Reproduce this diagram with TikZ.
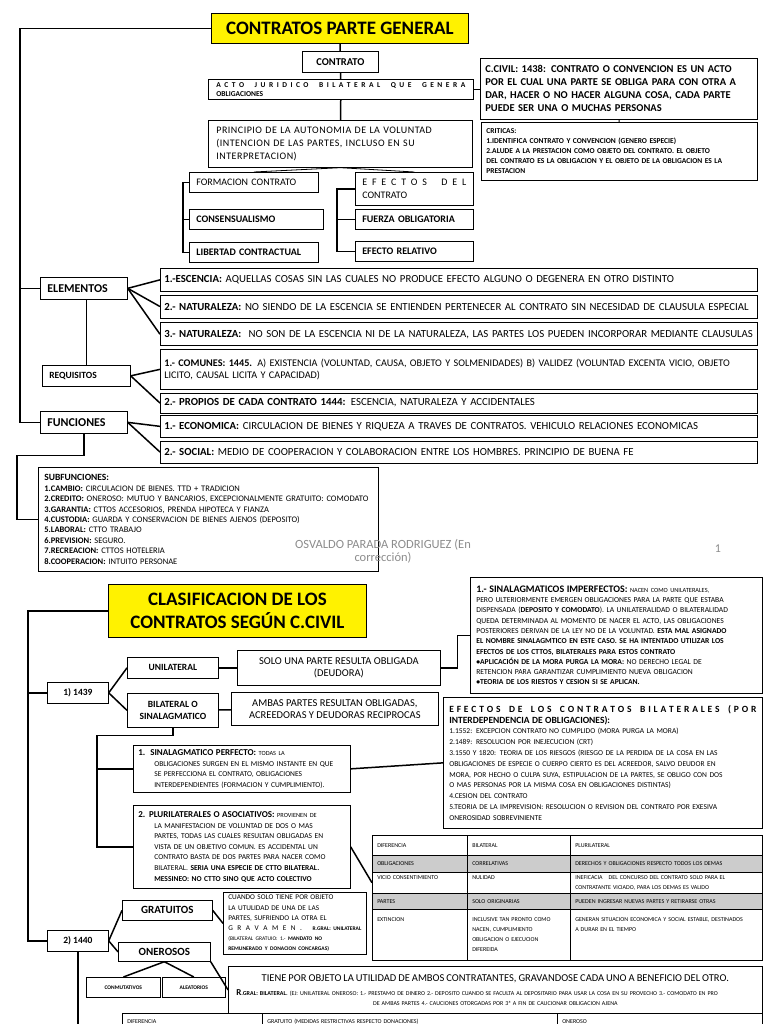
\documentclass[tikz,border=0pt]{standalone}
\usepackage{fontspec}
\setmainfont{Carlito}
\usepackage{tikz}
\usetikzlibrary{positioning}
\setlength{\parindent}{0pt}
\newcommand{\fsz}[2]{\fontsize{#1}{#2}\selectfont}
\newcommand{\jl}[2][\hsize]{\makebox[#1][s]{#2}}
\ExplSyntaxOn
\seq_new:N \l_spread_seq
\NewDocumentCommand{\spread}{m}
  {
    \seq_set_split:Nnn \l_spread_seq { ~ } {#1}
    \seq_map_indexed_inline:Nn \l_spread_seq
      {
        \int_compare:nT { ##1 > 1 } { \hskip 0pt plus 2fil \scan_stop: }
        \tl_map_inline:nn {##2} { ####1 \hskip 0pt plus 1fil \scan_stop: }
      }
    \unskip
  }
\ExplSyntaxOff

\begin{document}
\begin{tikzpicture}[x=1pt, y=-1pt,
    % Define styles for the boxes and the links
        box/.style={draw, line width=0.7pt, fill=white, anchor=north west, inner xsep=4pt, inner ysep=2pt, align=center},
        sz/.style 2 args={minimum width=#1, minimum height=#2},
        ttl/.style={box, fill=yellow, line width=0.9pt, font=\bfseries\fsz{19}{23}},
        item/.style={box, minimum width=597, minimum height=23, text width=589pt, align=left, font=\fsz{10.8}{12}},
        cell/.style={box, line width=0.5pt, align=left, inner xsep=5pt, font=\fsz{6}{10}},
        grey/.style={fill=black!20},
        link/.style={line width=1.5pt},
        thinlink/.style={line width=0.8pt}
    ]
    \useasboundingbox (0,0) rectangle (768,1024);
    \fill[white] (0,0) rectangle (768,1024);

        % Define the nodes of the first part
        \node[ttl, sz={257}{30}] (general) at (211,13) {CONTRATOS PARTE GENERAL};

        \node[box, sz={76}{21}, font=\bfseries\fsz{10.5}{12}] (contrato) at (302,51) {CONTRATO};

        \node[box, sz={265}{20}, inner ysep=1pt, inner xsep=8pt, text width=249pt, align=left, font=\bfseries\fsz{7.5}{9}] (acto) at (208,79) {\jl{\spread{ACTO JURIDICO BILATERAL QUE GENERA}}\\OBLIGACIONES};

        \node[box, sz={277}{61}, inner xsep=5pt, text width=267pt, align=left, font=\bfseries\fsz{10.5}{13}] (ccivil) at (480,58) {\jl{C.CIVIL: 1438: CONTRATO O CONVENCION ES UN ACTO}\\ \jl{POR EL CUAL UNA PARTE SE OBLIGA PARA CON OTRA A}\\ \jl{DAR, HACER O NO HACER ALGUNA COSA, CADA PARTE}\\ PUEDE SER UNA O MUCHAS PERSONAS};

        \node[box, sz={276}{58}, inner xsep=5pt, text width=266pt, align=left, font=\bfseries\fsz{7.5}{10}] (criticas) at (481,122) {CRITICAS:\\ 1.IDENTIFICA CONTRATO Y CONVENCION (GENERO ESPECIE)\\ \jl{2.ALUDE A LA PRESTACION COMO OBJETO DEL CONTRATO. EL OBJETO}\\ \jl{DEL CONTRATO ES LA OBLIGACION Y EL OBJETO DE LA OBLIGACION ES LA}\\ PRESTACION};

        \node[box, sz={264}{47}, inner xsep=8pt, text width=248pt, align=left, font=\fsz{10}{13}\addfontfeature{LetterSpace=5}] (principio) at (208,120) {\jl{PRINCIPIO DE LA AUTONOMIA DE LA VOLUNTAD}\\ \jl{(INTENCION DE LAS PARTES, INCLUSO EN SU}\\ INTERPRETACION)};

        \node[box, sz={129}{20}, inner xsep=7pt, text width=115pt, align=left, font=\fsz{10}{12}] (formacion) at (189,172) {FORMACION CONTRATO};
        \node[box, sz={134}{20}, inner xsep=7pt, text width=120pt, align=left, font=\bfseries\fsz{10}{12}] (consens) at (189,209) {CONSENSUALISMO};
        \node[box, sz={129}{20}, inner xsep=7pt, text width=115pt, align=left, font=\bfseries\fsz{10}{12}] (libertad) at (189,242) {LIBERTAD CONTRACTUAL};

        \node[box, sz={118}{33}, inner xsep=7pt, text width=104pt, align=left, font=\fsz{10}{13}] (efectos) at (355,172) {\jl{\spread{EFECTOS DEL}}\\CONTRATO};
        \node[box, sz={118}{20}, inner xsep=7pt, text width=104pt, align=left, font=\bfseries\fsz{10}{12}] (fuerza) at (355,209) {FUERZA OBLIGATORIA};
        \node[box, sz={118}{20}, inner xsep=7pt, text width=104pt, align=left, font=\bfseries\fsz{10}{12}] (relativo) at (355,241) {EFECTO RELATIVO};

        \node[box, sz={87}{22}, inner xsep=7pt, text width=73pt, align=left, font=\bfseries\fsz{12}{14}] (elementos) at (40,277) {ELEMENTOS};
        \node[item] (e1) at (160,268) {\mbox{\textbf{1.-ESCENCIA:} AQUELLAS COSAS SIN LAS CUALES NO PRODUCE EFECTO ALGUNO O DEGENERA EN OTRO DISTINTO}};
        \node[item, below=3pt of e1] (e2) {\mbox{\textbf{2.- NATURALEZA:} NO SIENDO DE LA ESCENCIA SE ENTIENDEN PERTENECER AL CONTRATO SIN NECESIDAD DE CLAUSULA ESPECIAL}};
        \node[item, below=4pt of e2] (e3) {\mbox{\textbf{3.- NATURALEZA:}\ \ NO SON DE LA ESCENCIA NI DE LA NATURALEZA, LAS PARTES LOS PUEDEN INCORPORAR MEDIANTE CLAUSULAS}};

        \node[box, sz={88}{21}, inner xsep=7pt, text width=74pt, align=left, font=\bfseries\fsz{9.5}{11}] (requisitos) at (42,365) {REQUISITOS};
        \node[item, minimum height=40, font=\fsz{10.2}{12}] (r1) at (160,349) {\jl{\textbf{1.- COMUNES: 1445.} A) EXISTENCIA (VOLUNTAD, CAUSA, OBJETO Y SOLMENIDADES) B) VALIDEZ (VOLUNTAD EXCENTA VICIO, OBJETO}\\ LICITO, CAUSAL LICITA Y CAPACIDAD)};
        \node[item, minimum height=20, below=3pt of r1] (r2) {\mbox{\textbf{2.- PROPIOS DE CADA CONTRATO 1444:} ESCENCIA, NATURALEZA Y ACCIDENTALES}};

        \node[box, sz={87}{22}, inner xsep=7pt, text width=73pt, align=left, font=\bfseries\fsz{12}{14}] (funciones) at (40,411) {FUNCIONES};
        \node[item, minimum height=22] (f1) at (160,415) {\mbox{\textbf{1.- ECONOMICA:} CIRCULACION DE BIENES Y RIQUEZA A TRAVES DE CONTRATOS. VEHICULO RELACIONES ECONOMICAS}};
        \node[item, minimum height=22, below=3pt of f1] (f2) {\mbox{\textbf{2.- SOCIAL:} MEDIO DE COOPERACION Y COLABORACION ENTRE LOS HOMBRES. PRINCIPIO DE BUENA FE}};

        \node[box, sz={340}{104}, inner xsep=6pt, text width=328pt, align=left, font=\fsz{8.5}{10.4}] (subfun) at (38,467) {{\bfseries\fsz{9.5}{11}SUBFUNCIONES:}\\
            \textbf{1.CAMBIO:} CIRCULACION DE BIENES. TTD + TRADICION\\
            \mbox{\textbf{2.CREDITO:} ONEROSO: MUTUO Y BANCARIOS, EXCEPCIONALMENTE GRATUITO: COMODATO}\\
            \textbf{3.GARANTIA:} CTTOS ACCESORIOS, PRENDA HIPOTECA Y FIANZA\\
            \textbf{4.CUSTODIA:} GUARDA Y CONSERVACION DE BIENES AJENOS (DEPOSITO)\\
            \textbf{5.LABORAL:} CTTO TRABAJO\\
            \textbf{6.PREVISION:} SEGURO.\\
            \textbf{7.RECREACION:} CTTOS HOTELERIA\\
            \textbf{8.COOPERACION:} INTUITO PERSONAE};

        \node[font=\fsz{12.5}{13}, text=black!45, align=center] (autor) at (383,551) {OSVALDO PARADA RODRIGUEZ (En\\corrección)};
        \node[font=\fsz{12}{13}, text=black!45] (pagina) at (718,549) {1};

        % Draw the links of the first part
        \draw[link] (general) -- (contrato);
        \draw[link] (contrato) -- (acto);
        \draw[link] (acto) -- (principio);
        \draw[link] (acto.east) -- (acto.east -| ccivil.west);
        \draw[thinlink] (ccivil) -- (criticas);
        \draw[thinlink] (formacion.north) -- (principio.south) -- (efectos.north);

        \draw[link] (formacion.west) -- ++(-6,0) |- (libertad.west);
        \draw[link] (consens.west) -- ++(-6,0);
        \draw[link] (efectos.west) -- ++(-18,0) |- (relativo.west);
        \draw[link] (fuerza.west) -- ++(-18,0);

        \coordinate (spine) at (20,0);
        \draw[link] (general.west) -| (spine |- funciones.west) -- (funciones.west);
        \draw[link] (spine |- elementos.west) -- (elementos.west);
        \draw[link] (elementos.south -| requisitos.north) -- (requisitos.north);
        \draw[link] (funciones.south) -- ++(0,22) -| ([xshift=-21pt]subfun.west) -- (subfun.west);

        \foreach \i in {e1,e2,e3} \draw[link] (elementos.east) -- (\i.west);
        \foreach \i in {r1,r2} \draw[link] (requisitos.east) -- (\i.west);
        \foreach \i in {f1,f2} \draw[link] (funciones.east) -- (\i.west);

        % Define the nodes of the second part
        \node[ttl, sz={258}{53}] (clasif) at (108,584) {CLASIFICACION DE LOS\\CONTRATOS SEGÚN C.CIVIL};

        \node[box, sz={61}{21}, font=\bfseries\fsz{9.5}{11}] (n1439) at (47,682) {1) 1439};
        \node[box, sz={91}{21}, font=\bfseries\fsz{9.5}{11}] (unilateral) at (127,657) {UNILATERAL};
        \node[box, sz={91}{34}, font=\bfseries\fsz{9.5}{12}] (bilateral) at (127,693) {BILATERAL O\\SINALAGMATICO};
        \node[box, sz={203}{35}, font=\fsz{10.5}{12.5}] (solouna) at (237,650) {SOLO UNA PARTE RESULTA OBLIGADA\\(DEUDORA)};
        \node[box, sz={207}{33}, font=\fsz{10.5}{12}] (ambas) at (231,692) {AMBAS PARTES RESULTAN OBLIGADAS,\\ACREEDORAS Y DEUDORAS RECIPROCAS};

        \node[box, sz={292}{116}, inner xsep=6pt, text width=280pt, align=left, font=\fsz{7.6}{10.3}] (imperf) at (470,577) {\jl{{\bfseries\fsz{10}{10}1.- SINALAGMATICOS IMPERFECTOS:} {\fsz{6.3}{8}NACEN COMO UNILATERALES,}}\\
            \jl{PERO ULTERIORMENTE EMERGEN OBLIGACIONES PARA LA PARTE QUE ESTABA}\\
            \jl{DISPENSADA (\textbf{DEPOSITO Y COMODATO}). LA UNILATERALIDAD O BILATERALIDAD}\\
            \jl{QUEDA DETERMINADA AL MOMENTO DE NACER EL ACTO, LAS OBLIGACIONES}\\
            \jl{POSTERIORES DERIVAN DE LA LEY NO DE LA VOLUNTAD. \textbf{ESTA MAL ASIGNADO}}\\
            \jl{\bfseries EL NOMBRE SINALAGMTICO EN ESTE CASO. SE HA INTENTADO UTILIZAR LOS}\\
            \textbf{EFECTOS DE LOS CTTOS, BILATERALES PARA ESTOS CONTRATO}\\
            \jl{\textbf{•APLICACIÓN DE LA MORA PURGA LA MORA:} NO DERECHO LEGAL DE}\\
            RETENCION PARA GARANTIZAR CUMPLIMIENTO NUEVA OBLIGACION\\
            \textbf{•TEORIA DE LOS RIESTOS Y CESION SI SE APLICAN.}};

        \node[box, sz={319}{131}, inner xsep=6pt, text width=307pt, align=left, font=\fsz{7.5}{10.8}] (efbilat) at (443,697) {\jl{\bfseries\fsz{9.5}{11}\spread{EFECTOS DE LOS CONTRATOS BILATERALES (POR}}\\
            {\bfseries\fsz{9.5}{11}INTERDEPENDENCIA DE OBLIGACIONES):}\\
            1.1552: EXCEPCION CONTRATO NO CUMPLIDO (MORA PURGA LA MORA)\\
            2.1489: RESOLUCION POR INEJECUCION (CRT)\\
            \jl{3.1550 Y 1820: TEORIA DE LOS RIESGOS (RIESGO DE LA PERDIDA DE LA COSA EN LAS}\\
            \jl{OBLIGACIONES DE ESPECIE O CUERPO CIERTO ES DEL ACREEDOR, SALVO DEUDOR EN}\\
            \jl{MORA, POR HECHO O CULPA SUYA, ESTIPULACION DE LA PARTES, SE OBLIGO CON DOS}\\
            O MAS PERSONAS POR LA MISMA COSA EN OBLIGACIONES DISTINTAS)\\
            4.CESION DEL CONTRATO\\
            \jl{5.TEORIA DE LA IMPREVISION: RESOLUCION O REVISION DEL CONTRATO POR EXESIVA}\\
            ONEROSIDAD SOBREVINIENTE};

        \node[box, sz={217}{47}, inner xsep=5pt, text width=207pt, align=left, font=\fsz{7.5}{10.5}] (perfecto) at (133,745) {\jl{{\bfseries\fsz{9}{10}1.\ \ SINALAGMATICO PERFECTO:} {\fsz{6.3}{8}TODAS LA}}\\
            \hspace*{16pt}\jl[191pt]{OBLIGACIONES SURGEN EN EL MISMO INSTANTE EN QUE}\\
            \hspace*{16pt}\jl[191pt]{SE PERFECCIONA EL CONTRATO, OBLIGACIONES}\\
            \hspace*{16pt}INTERDEPENDIENTES (FORMACION Y CUMPLIMIENTO).};

        \node[box, sz={217}{83}, inner xsep=5pt, text width=207pt, align=left, font=\fsz{7.5}{10.6}] (plurilat) at (133,805) {\jl{{\bfseries\fsz{9}{10}2. PLURILATERALES O ASOCIATIVOS:} {\fsz{6.3}{8}PROVIENEN DE}}\\
            \hspace*{16pt}\jl[191pt]{LA MANIFESTACION DE VOLUNTAD DE DOS O MAS}\\
            \hspace*{16pt}\jl[191pt]{PARTES, TODAS LAS CUALES RESULTAN OBLIGADAS EN}\\
            \hspace*{16pt}\jl[191pt]{VISTA DE UN OBJETIVO COMUN. ES ACCIDENTAL UN}\\
            \hspace*{16pt}\jl[191pt]{CONTRATO BASTA DE DOS PARTES PARA NACER COMO}\\
            \hspace*{16pt}\jl[191pt]{BILATERAL. \textbf{SERIA UNA ESPECIE DE CTTO BILATERAL.}}\\
            \hspace*{16pt}\textbf{MESSINEO: NO CTTO SINO QUE ACTO COLECTIVO}};

        % Table bilateral / plurilateral
        \node[cell, sz={95}{20}, text width=85pt] (d11) at (372,835) {DIFERENCIA};
        \node[cell, sz={103}{20}, text width=93pt] (d12) at (467,835) {BILATERAL};
        \node[cell, sz={192}{20}, text width=182pt] (d13) at (570,835) {PLURILATERAL};
        \node[cell, grey, sz={95}{17}, text width=85pt] (d21) at (372,855) {OBLIGACIONES};
        \node[cell, grey, sz={103}{17}, text width=93pt] (d22) at (467,855) {CORRELATIVAS};
        \node[cell, grey, sz={192}{17}, text width=182pt] (d23) at (570,855) {DERECHOS Y OBLIGACIONES RESPECTO TODOS LOS DEMAS};
        \node[cell, sz={95}{21}, text width=85pt] (d31) at (372,872) {VICIO CONSENTIMIENTO\\\mbox{}};
        \node[cell, sz={103}{21}, text width=93pt] (d32) at (467,872) {NULIDAD\\\mbox{}};
        \node[cell, sz={192}{21}, text width=182pt] (d33) at (570,872) {\jl{INEFICACIA\ \ \ DEL CONCURSO DEL CONTRATO SOLO PARA EL}\\CONTRATANTE VICIADO, PARA LOS DEMAS ES VALIDO};
        \node[cell, grey, sz={95}{16}, text width=85pt] (d41) at (372,893) {PARTES};
        \node[cell, grey, sz={103}{16}, text width=93pt] (d42) at (467,893) {SOLO ORIGINARIAS};
        \node[cell, grey, sz={192}{16}, text width=182pt] (d43) at (570,893) {PUEDEN INGRESAR NUEVAS PARTES Y RETIRARSE OTRAS};
        \node[cell, sz={95}{51}, text width=85pt] (d51) at (372,909) {EXTINCION\\\mbox{}\\\mbox{}\\\mbox{}};
        \node[cell, sz={103}{51}, text width=93pt] (d52) at (467,909) {\jl{INCLUSIVE TAN PRONTO COMO}\\\jl{NACEN, CUMPLIMIENTO}\\\jl{OBLIGACION O EJECUCION}\\DIFEREIDA};
        \node[cell, sz={192}{51}, text width=182pt] (d53) at (570,909) {\jl{GENERAN SITUACION ECONOMICA Y SOCIAL ESTABLE, DESTINADOS}\\A DURAR EN EL TIEMPO\\\mbox{}\\\mbox{}};

        \node[box, sz={61}{21}, font=\bfseries\fsz{9.5}{11}] (n1440) at (47,930) {2) 1440};
        \node[box, sz={90}{20}, font=\bfseries\fsz{11}{12}] (gratuitos) at (122,900) {GRATUITOS};
        \node[box, sz={92}{19}, font=\bfseries\fsz{11}{12}] (onerosos) at (118,942) {ONEROSOS};

        \node[box, sz={143}{62}, inner xsep=5pt, text width=133pt, align=left, font=\fsz{7.3}{10.2}] (cuando) at (223,892) {\jl{CUANDO SOLO TIENE POR OBJETO}\\
            \jl{LA UTULIDAD DE UNA DE LAS}\\
            \jl{PARTES, SUFRIENDO LA OTRA EL}\\
            \jl{\spread{GRAVAMEN.}\hskip 6pt plus 1fil {\bfseries\fsz{5.5}{6}R.GRAL: UNILATERAL}}\\
            \jl{\fsz{5.5}{6}(BILATERAL GRATUIO: 1.- \textbf{MANDATO NO}}\\
            {\bfseries\fsz{5.5}{6}REMUNERADO Y DONACION CONCARGAS)}};

        \node[box, sz={74}{20}, font=\bfseries\fsz{5.5}{7}] (conmut) at (86,977) {CONMUTATIVOS};
        \node[box, sz={63}{20}, font=\bfseries\fsz{5.5}{7}] (aleat) at (162,977) {ALEATORIOS};

        \node[box, sz={534}{47}, inner xsep=8pt, text width=518pt, font=\fsz{6}{9.5}] (tiene) at (228,966) {{\fsz{10.5}{12}TIENE POR OBJETO LA UTILIDAD DE AMBOS CONTRATANTES, GRAVANDOSE CADA UNO A BENEFICIO DEL OTRO.}\\[5pt]
            \jl{{\bfseries\fsz{9}{9}R}{\bfseries .GRAL: BILATERAL.} (EJ: UNILATERAL ONEROSO: 1.- PRESTAMO DE DINERO 2.- DEPOSITO CUANDO SE FACULTA AL DEPOSITARIO PARA USAR LA COSA EN SU PROVECHO 3.- COMODATO EN PRO}\\
            DE AMBAS PARTES 4.- CAUCIONES OTORGADAS POR 3ª A FIN DE CAUCIONAR OBLIGACION AJENA};

        % Table gratuito / oneroso
        \node[cell, sz={140}{17}, text width=130pt] (g11) at (122,1013) {DIFERENCIA};
        \node[cell, sz={295}{17}, text width=285pt] (g12) at (262,1013) {GRATUITO (MEDIDAS RESTRICTIVAS RESPECTO DONACIONES)};
        \node[cell, sz={205}{17}, text width=195pt] (g13) at (557,1013) {ONEROSO};

        % Draw the links of the second part
        \coordinate (spinetwo) at (28,0);
        \draw[link] (clasif.west) -| (spinetwo |- n1440.west) -- (n1440.west);
        \draw[link] (spinetwo |- n1439.west) -- (n1439.west);

        \draw[link] (n1439.east) -- (unilateral.west);
        \draw[link] (n1439.east) -- (bilateral.west);
        \draw[link] (unilateral) -- (solouna);
        \draw[link] (bilateral) -- (ambas);
        \draw[link] (solouna.east) -- ++(17,0) |- (imperf.west);

        \coordinate (branch) at (97,0);
        \draw[link] (bilateral.south) -- ++(0,8) -| (branch |- plurilat.west) -- (plurilat.west);
        \draw[link] (branch |- perfecto.west) -- (perfecto.west);
        \draw[link] (perfecto.east) -- (efbilat.west);
        \draw[link] (plurilat.east) -- (d31.west);

        \draw[link] (n1440.east) -- (gratuitos.west);
        \draw[link] (n1440.east) -- (onerosos.west);
        \draw[link] (gratuitos.east) -- (cuando.west);
        \draw[link] (onerosos.south) -- (conmut.north);
        \draw[link] (onerosos.south) -- (aleat.north);
        \draw[link] (onerosos.south east) -- (tiene.west);
        \coordinate (tail) at (78,1030);
        \draw[link] (n1440.south) -- (n1440.south |- tail);
    \end{tikzpicture}
\end{document}
